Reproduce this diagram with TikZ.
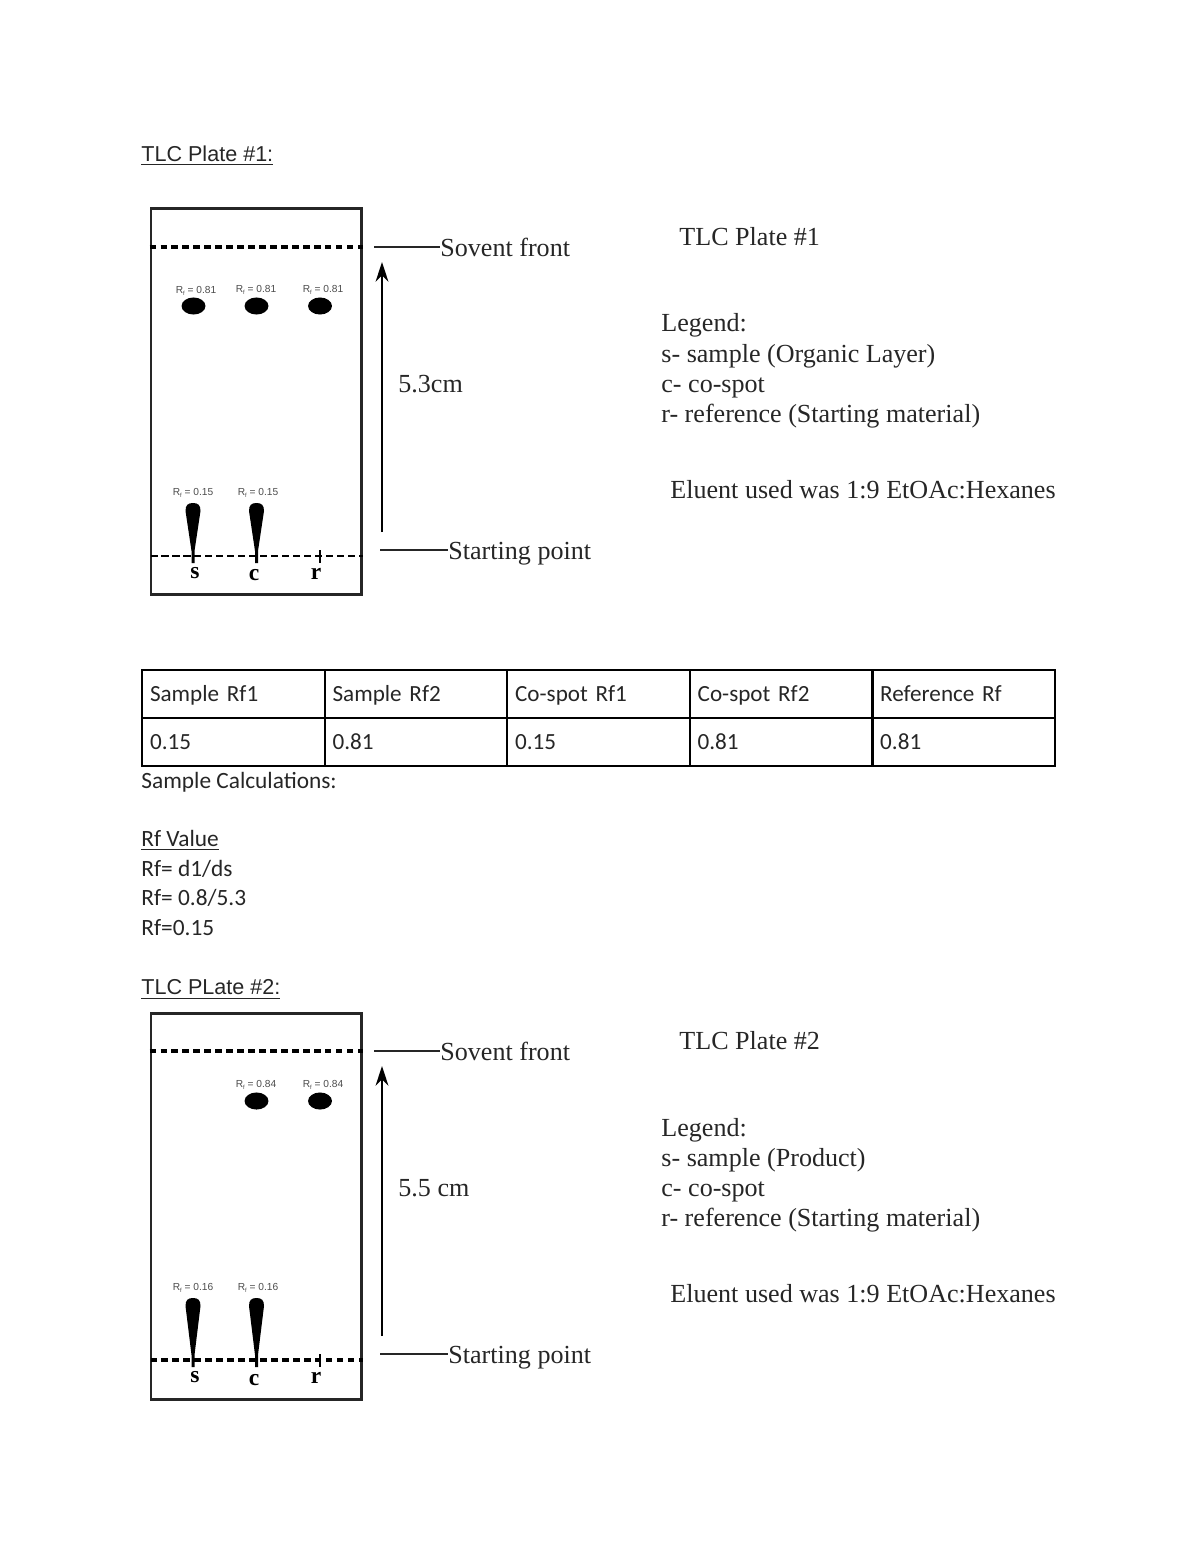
\documentclass[tikz,border=0pt]{standalone}
\usepackage{fontspec}
\usepackage{xcolor}
\setmainfont{Liberation Serif}
\newfontfamily\arialfont{Liberation Sans}
\newfontfamily\calibrifont{Carlito}
\usetikzlibrary{arrows.meta,positioning,shapes.geometric}
\newcommand{\rfname}{R{\lower.7pt\hbox{\fontsize{3}{3}\selectfont f}}}

\begin{document}
\begin{tikzpicture}[
  x=0.51pt, y=0.51pt,
  plate/.style={draw=black!85, line width=1.3pt, minimum width=107.5pt, minimum height=197pt, inner sep=0pt},
  dashline/.style={line width=1.7pt, dash pattern=on 3.2pt off 2.4pt},
  spot/.style={ellipse, fill=black, minimum width=12.2pt, minimum height=8.7pt, inner sep=0pt},
  rflabel/.style={font=\arialfont\fontsize{5.2}{5.5}\selectfont, text=black!70, inner sep=0pt},
  lane/.style={font=\bfseries\fontsize{12}{13}\selectfont, inner sep=0pt},
  serif/.style={font=\fontsize{13.3}{15.45}\selectfont, text=black!85, align=left, inner sep=0pt, anchor=west},
  heading/.style={font=\arialfont\fontsize{11}{13}\selectfont, text=black!85, inner sep=0pt, anchor=west},
  calc/.style={font=\calibrifont\fontsize{11.9}{15.1}\selectfont, text=black!85, align=left, inner sep=0pt, anchor=west},
  cell/.style={draw=black, line width=1.2pt, font=\calibrifont\fontsize{11.8}{13}\selectfont, text=black!85, align=left,
    text width=85.1pt, text height=9pt, text depth=1.5pt, inner xsep=4pt, inner ysep=0pt, minimum height=24.5pt},
  lead/.style={line width=.6pt, black!85},
  arrow/.style={-{Stealth[length=10pt,width=6.5pt]}, line width=1.1pt},
  tailspot/.pic={\fill (-1.5,0) -- (-1.5,12) -- (-7.5,#1-8) .. controls (-7.5,#1-2) and (-5,#1) .. (0,#1)
    .. controls (5,#1) and (7.5,#1-2) .. (7.5,#1-8) -- (1.5,12) -- (1.5,0) -- cycle;},
]
\useasboundingbox (0,0) rectangle (1200,-1553);

% plate 1
\node[heading] (title1) at (141,-156) {\underline{TLC Plate \#1:}};
\node[plate] (plate1) at (256.2,-401.5) {};
\coordinate (front1) at (374,-247);
\coordinate (base1) at (150.5,-556);
\coordinate (start1) at (380,-550);
\coordinate (tail1) at (382,-532);
\coordinate (tip1) at (382,-262);
\node[serif] (sovent1) at (440,-247) {Sovent front};
\node[serif] (point1) at (448,-553.5) {Starting point};
\node[serif] (dist1) at (398,-384) {5.3cm};
\draw[dashline] (plate1.west |- front1) -- (plate1.east |- front1);
\draw[dashline, line width=1.2pt, dash pattern=on 3.6pt off 2pt] (base1) -- (plate1.east |- base1);
\draw[lead] (front1) -- (sovent1.west |- front1);
\draw[lead] (start1) -- (point1.west |- start1);
\draw[arrow] (tail1) -- (tip1);
\node[spot] (s1top) at (193.5,-306) {};
\node[spot] (c1top) at (256.5,-306) {};
\node[spot] (r1top) at (320,-306) {};
\node[rflabel] (s1rf) at (196,-291) {\rfname{} = 0.81};
\node[rflabel] (c1rf) at (256,-290) {\rfname{} = 0.81};
\node[rflabel] (r1rf) at (323,-290) {\rfname{} = 0.81};
\node[rflabel] (s1low) at (193,-493) {\rfname{} = 0.15};
\node[rflabel] (c1low) at (258,-493) {\rfname{} = 0.15};
\pic at (193,-563) {tailspot=60};
\pic at (256.5,-563) {tailspot=60};
\draw[line width=.9pt] (320,-550) -- (320,-563);
\node[lane] (s1) at (195,-573) {s};
\node[lane] (c1) at (254,-575) {c};
\node[lane] (r1) at (316,-574) {r};

% right hand notes 1
\node[serif] (name1) at (679,-237) {TLC Plate \#1};
\node[serif, anchor=north west] (legend1) at (661,-313.5)
  {Legend:\\ s- sample (Organic Layer)\\ c- co-spot\\ r- reference (Starting material)};
\node[serif] (eluent1) at (670,-490) {Eluent used was 1:9 EtOAc:Hexanes};

% table
\node[cell, anchor=north west] (h1) at (141,-668.5) {Sample Rf1};
\node[cell, right=-1.2pt of h1] (h2) {Sample Rf2};
\node[cell, right=-1.2pt of h2] (h3) {Co-spot Rf1};
\node[cell, right=-1.2pt of h3] (h4) {Co-spot Rf2};
\node[cell, right=-1.2pt of h4] (h5) {Reference Rf};
\node[cell, below=-1.2pt of h1] (v1) {0.15};
\node[cell, below=-1.2pt of h2] (v2) {0.81};
\node[cell, below=-1.2pt of h3] (v3) {0.15};
\node[cell, below=-1.2pt of h4] (v4) {0.81};
\node[cell, below=-1.2pt of h5] (v5) {0.81};

% calculations
\node[calc] (calc1) at (141,-782) {Sample Calculations:};
\node[calc, anchor=north west] (calc2) at (141,-830) {\underline{Rf Value}\\ Rf= d1/ds\\ Rf= 0.8/5.3\\ Rf=0.15};

% plate 2
\node[heading] (title2) at (141,-989.5) {\underline{TLC PLate \#2:}};
\node[plate] (plate2) at (256.2,-1206.5) {};
\coordinate (front2) at (374,-1051);
\coordinate (base2) at (150.5,-1360);
\coordinate (start2) at (380,-1354);
\coordinate (tail2) at (382,-1336);
\coordinate (tip2) at (382,-1066);
\node[serif] (sovent2) at (440,-1051) {Sovent front};
\node[serif] (point2) at (448,-1357.5) {Starting point};
\node[serif] (dist2) at (398,-1188) {5.5 cm};
\draw[dashline] (plate2.west |- front2) -- (plate2.east |- front2);
\draw[dashline] (base2) -- (plate2.east |- base2);
\draw[lead] (front2) -- (sovent2.west |- front2);
\draw[lead] (start2) -- (point2.west |- start2);
\draw[arrow] (tail2) -- (tip2);
\node[spot] (c2top) at (256.5,-1101) {};
\node[spot] (r2top) at (320,-1101) {};
\node[rflabel] (c2rf) at (256,-1085) {\rfname{} = 0.84};
\node[rflabel] (r2rf) at (323,-1085) {\rfname{} = 0.84};
\node[rflabel] (s2low) at (193,-1288) {\rfname{} = 0.16};
\node[rflabel] (c2low) at (258,-1288) {\rfname{} = 0.16};
\pic at (193,-1367) {tailspot=69};
\pic at (256.5,-1367) {tailspot=69};
\draw[line width=.9pt] (320,-1354) -- (320,-1367);
\node[lane] (s2) at (195,-1377) {s};
\node[lane] (c2) at (254,-1380) {c};
\node[lane] (r2) at (316,-1378) {r};

% right hand notes 2
\node[serif] (name2) at (679,-1041) {TLC Plate \#2};
\node[serif, anchor=north west] (legend2) at (661,-1117.5)
  {Legend:\\ s- sample (Product)\\ c- co-spot\\ r- reference (Starting material)};
\node[serif] (eluent2) at (670,-1294) {Eluent used was 1:9 EtOAc:Hexanes};
\end{tikzpicture}
\end{document}
